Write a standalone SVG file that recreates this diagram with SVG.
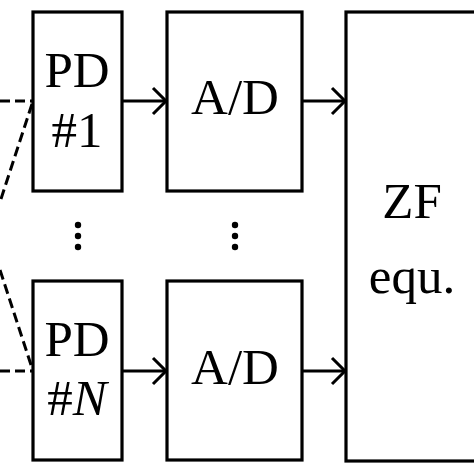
<svg xmlns="http://www.w3.org/2000/svg" width="474" height="474" viewBox="0 0 474 474">
<defs>
<style>
.box{fill:#fff;stroke:#000;stroke-width:3.2}
.t{font-family:"Liberation Serif",serif;font-size:51px;fill:#000;text-anchor:middle}
.c{stroke:#000;stroke-width:3;fill:none}
.d{stroke:#000;stroke-width:3;fill:none;stroke-dasharray:10 5}
</style>
<marker id="ah" markerWidth="18" markerHeight="30" refX="15" refY="15" orient="auto" markerUnits="userSpaceOnUse">
<path d="M2,2 L15,15 L2,28" fill="none" stroke="#000" stroke-width="3"/>
</marker>
</defs>
<rect width="474" height="474" fill="#fff"/>
<g id="connectors">
<line class="c" x1="122" y1="101" x2="166" y2="101" marker-end="url(#ah)"/>
<line class="c" x1="302" y1="101" x2="345" y2="101" marker-end="url(#ah)"/>
<line class="c" x1="122" y1="371" x2="166" y2="371" marker-end="url(#ah)"/>
<line class="c" x1="302" y1="371" x2="345" y2="371" marker-end="url(#ah)"/>
<line class="d" x1="0" y1="101" x2="32" y2="101"/>
<line class="d" x1="32" y1="104" x2="0" y2="202"/>
<line class="d" x1="0" y1="371" x2="32" y2="371"/>
<line class="d" x1="0" y1="270" x2="32" y2="368"/>
</g>
<g id="pd1">
<rect class="box" x="33" y="12" width="89" height="179"/>
<text class="t" x="77" y="87">PD</text>
<text class="t" x="77" y="147">#1</text>
</g>
<g id="ad1">
<rect class="box" x="167" y="12" width="135" height="179"/>
<text class="t" x="235" y="114">A/D</text>
</g>
<g id="pdN">
<rect class="box" x="33" y="281" width="89" height="179"/>
<text class="t" x="77" y="356">PD</text>
<text class="t" x="77" y="415">#<tspan font-style="italic">N</tspan></text>
</g>
<g id="adN">
<rect class="box" x="167" y="281" width="135" height="179"/>
<text class="t" x="235" y="384">A/D</text>
</g>
<g id="zf">
<rect class="box" x="346" y="12" width="140" height="449"/>
<text class="t" x="412" y="218">ZF</text>
<text class="t" x="412" y="293">equ.</text>
</g>
<g id="dots">
<circle cx="78" cy="225" r="3.2"/>
<circle cx="78" cy="236" r="3.2"/>
<circle cx="78" cy="247" r="3.2"/>
<circle cx="235" cy="225" r="3.2"/>
<circle cx="235" cy="236" r="3.2"/>
<circle cx="235" cy="247" r="3.2"/>
</g>
</svg>
